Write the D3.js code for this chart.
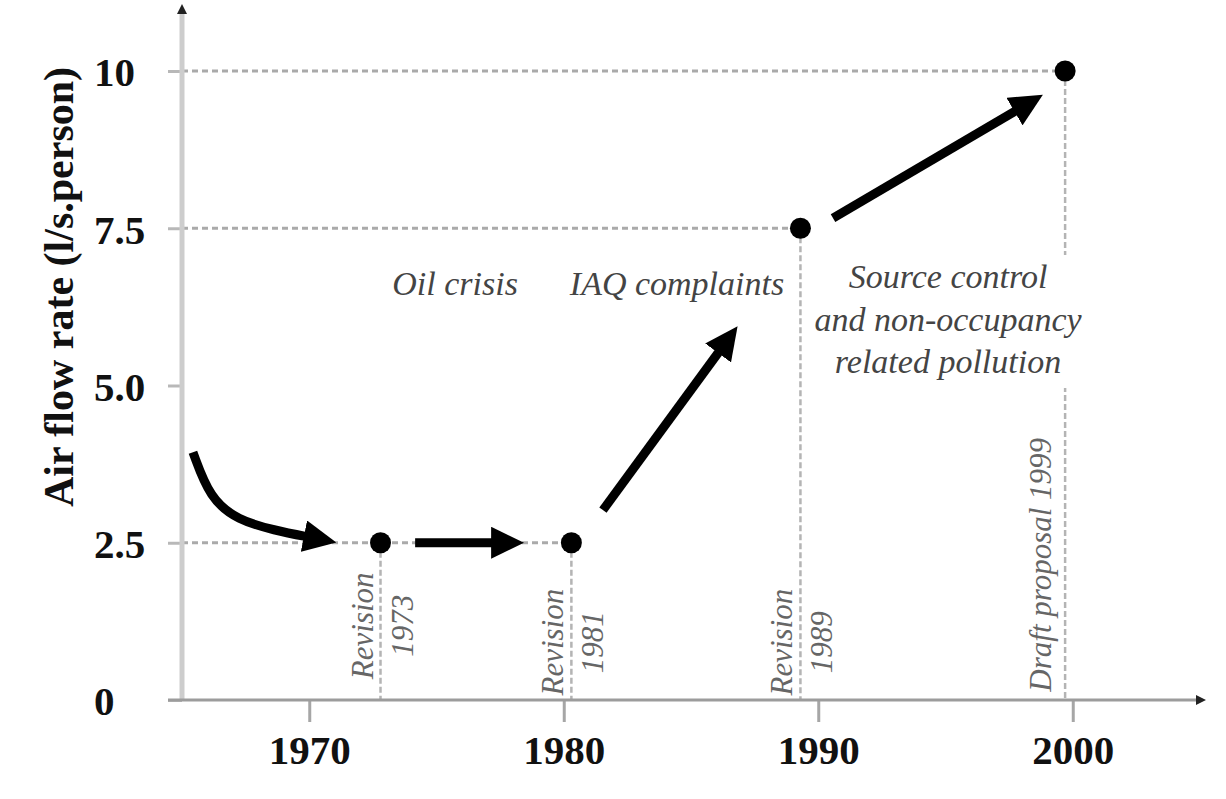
<!DOCTYPE html>
<html>
<head>
<meta charset="utf-8">
<script src="https://cdn.jsdelivr.net/npm/d3@7"></script>
<style>
  body { margin: 0; background: #fff; }
  svg { display: block; }
</style>
</head>
<body>
<div id="chart"></div>
<script>
// data
const years = [1972.8, 1980.3, 1989.3, 1999.7];
const rates = [2.5, 2.5, 7.5, 10];
const xTicks = [1970, 1980, 1990, 2000];
const yTicks = [0, 2.5, 5, 7.5, 10];
const yTickLabels = ["0", "2.5", "5.0", "7.5", "10"];
const yLabel = "Air flow rate (l/s.person)";

// rotated labels next to each revision line
const revisionText = [["Revision", "1973"], ["Revision", "1981"], ["Revision", "1989"], ["Draft proposal 1999"]];
const revisionMid = [1.18, 0.92, 0.92, 2.15];

// trend arrows, [year, rate] points of the shaft
const arrows = [
  [[1965.43, 3.94], [1966.1, 3.2], [1967.2, 2.86], [1968.6, 2.7], [1970.1, 2.58]],
  [[1974.16, 2.5], [1977.46, 2.5]],
  [[1981.54, 3.02], [1986.25, 5.62]],
  [[1990.58, 7.66], [1997.98, 9.42]]
];

// phase notes: [year, rate, lines]
const notes = [
  [1975.73, 6.44, ["Oil crisis"]],
  [1984.45, 6.44, ["IAQ complaints"]],
  [1995.1, 6.55, ["Source control", "and non-occupancy", "related pollution"]]
];

const W = 1226, H = 799;
const svg = d3.select("#chart").append("svg").attr("width", W).attr("height", H);

const x = d3.scaleLinear().domain([1965, 2005]).range([182, 1200]);
const y = d3.scaleLinear().domain([0, 10]).range([700, 71]);

const defs = svg.append("defs");
defs.append("marker")
  .attr("id", "head")
  .attr("markerUnits", "userSpaceOnUse")
  .attr("viewBox", "0 0 33 32")
  .attr("markerWidth", 33).attr("markerHeight", 32)
  .attr("refX", 8).attr("refY", 16)
  .attr("orient", "auto")
  .append("path").attr("d", "M0,0 L33,16 L0,32 Z").attr("fill", "#000");
defs.append("marker")
  .attr("id", "axhead")
  .attr("markerUnits", "userSpaceOnUse")
  .attr("viewBox", "0 0 10 10")
  .attr("markerWidth", 10).attr("markerHeight", 10)
  .attr("refX", 2).attr("refY", 5)
  .attr("orient", "auto")
  .append("path").attr("d", "M0,0 L10,5 L0,10 Z").attr("fill", "#222");

const pts = years.map((d, i) => [d, rates[i]]);

// dotted guide lines
const hLevels = d3.rollups(pts, v => d3.max(v, p => p[0]), p => p[1]);
svg.selectAll(".hguide")
  .data(hLevels)
  .enter().append("line")
  .attr("x1", x(1965)).attr("x2", d => x(d[1]))
  .attr("y1", d => y(d[0])).attr("y2", d => y(d[0]))
  .attr("stroke", "#aaaaaa").attr("stroke-width", 3)
  .attr("stroke-dasharray", "6,4");

svg.selectAll(".vguide")
  .data(pts)
  .enter().append("line")
  .attr("x1", d => x(d[0])).attr("x2", d => x(d[0]))
  .attr("y1", d => y(d[1])).attr("y2", y(0))
  .attr("stroke", "#b4b4b4").attr("stroke-width", 2.5)
  .attr("stroke-dasharray", "6,3");

// axes
const yAxis = svg.append("g")
  .attr("transform", "translate(" + x(1965) + ",0)")
  .call(d3.axisLeft(y).tickValues(yTicks).tickSize(14).tickFormat((d, i) => yTickLabels[i]));
yAxis.select(".domain").remove();
yAxis.selectAll(".tick line").attr("stroke", "#b8b8b8").attr("stroke-width", 3);
yAxis.selectAll(".tick text")
  .attr("x", 94 - x(1965))
  .attr("dy", "0.36em")
  .attr("text-anchor", "start")
  .style("font-family", "'Liberation Serif', 'Times New Roman', serif")
  .style("font-weight", "bold")
  .style("font-size", "41px")
  .attr("fill", "#111");

svg.append("line")
  .attr("x1", x(1965)).attr("x2", x(1965))
  .attr("y1", y(0)).attr("y2", 12)
  .attr("stroke", "#cdcdcd").attr("stroke-width", 5)
  .attr("marker-end", "url(#axhead)");

const xAxis = svg.append("g")
  .attr("transform", "translate(0," + y(0) + ")")
  .call(d3.axisBottom(x).tickValues(xTicks).tickSize(22).tickFormat(d3.format("d")));
xAxis.select(".domain").remove();
xAxis.selectAll(".tick line").attr("stroke", "#a6a6a6").attr("stroke-width", 3);
xAxis.selectAll(".tick text")
  .attr("y", 64)
  .attr("dy", 0)
  .style("font-family", "'Liberation Serif', 'Times New Roman', serif")
  .style("font-weight", "bold")
  .style("font-size", "41px")
  .attr("fill", "#111");

svg.append("line")
  .attr("x1", 168).attr("x2", 1198)
  .attr("y1", y(0)).attr("y2", y(0))
  .attr("stroke", "#9c9c9c").attr("stroke-width", 3)
  .attr("marker-end", "url(#axhead)");

// y label
svg.append("text")
  .attr("transform", "translate(73," + 287 + ") rotate(-90)")
  .attr("text-anchor", "middle")
  .style("font-family", "'Liberation Serif', 'Times New Roman', serif")
  .style("font-weight", "bold")
  .style("font-size", "42px")
  .attr("fill", "#111")
  .text(yLabel);

// white block behind the last note (it cuts the 2000 guide)
const lastNote = notes[notes.length - 1];
svg.append("rect")
  .attr("x", x(lastNote[0]) - 140).attr("y", y(lastNote[1]) - 33)
  .attr("width", 280).attr("height", 133)
  .attr("fill", "#fff");

// arrows
const line = d3.line().x(d => x(d[0])).y(d => y(d[1])).curve(d3.curveBasis);
svg.selectAll(".arrow")
  .data(arrows)
  .enter().append("path")
  .attr("d", line)
  .attr("fill", "none")
  .attr("stroke", "#000")
  .attr("stroke-width", 9)
  .attr("marker-end", "url(#head)");

// points
svg.selectAll(".dot")
  .data(pts)
  .enter().append("circle")
  .attr("cx", d => x(d[0])).attr("cy", d => y(d[1]))
  .attr("r", 10.5).attr("fill", "#000");

// notes
notes.forEach(n => {
  const t = svg.append("text")
    .attr("text-anchor", "middle")
    .style("font-family", "'Liberation Serif', 'Times New Roman', serif")
    .style("font-style", "italic")
    .style("font-size", "34px")
    .attr("fill", "#444");
  n[2].forEach((s, i) => {
    t.append("tspan").attr("x", x(n[0])).attr("y", y(n[1]) + i * 42.5).text(s);
  });
});

// revision labels, rotated along the guides
revisionText.forEach((lines, i) => {
  const cx = x(years[i]);
  const cy = y(revisionMid[i]);
  lines.forEach((s, j) => {
    const off = lines.length === 1 ? -14 : (j === 0 ? -8 : 32);
    svg.append("text")
      .attr("transform", "translate(" + (cx + off) + "," + cy + ") rotate(-90)")
      .attr("text-anchor", "middle")
      .style("font-family", "'Liberation Serif', 'Times New Roman', serif")
      .style("font-style", "italic")
      .style("font-size", "31px")
      .attr("fill", "#666")
      .text(s);
  });
});
</script>
</body>
</html>
